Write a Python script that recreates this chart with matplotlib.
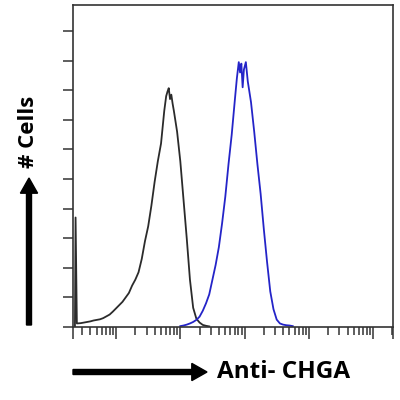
import numpy as np
import matplotlib
matplotlib.use("Agg")
import matplotlib.pyplot as plt
from matplotlib.patches import FancyArrow

# histogram data: channel position in decades (log10 intensity) and cell counts
ctrl_log = [0.36, 0.37, 0.39, 0.45, 0.50, 0.55, 0.60, 0.65, 0.70, 0.75, 0.80,
            0.85, 0.90, 0.95, 1.00, 1.05, 1.10, 1.15, 1.20, 1.25, 1.30, 1.35,
            1.40, 1.45, 1.50, 1.55, 1.60, 1.65, 1.70, 1.75, 1.78, 1.80, 1.82,
            1.84, 1.86, 1.88, 1.90, 1.95, 2.00, 2.05, 2.10, 2.15, 2.20, 2.25,
            2.30, 2.35, 2.40, 2.45]
ctrl_cnt = [0.0, 3.7, 0.12, 0.13, 0.15, 0.17, 0.19, 0.22, 0.24, 0.26, 0.30,
            0.36, 0.42, 0.52, 0.63, 0.74, 0.85, 1.0, 1.15, 1.4, 1.6, 1.85,
            2.3, 2.9, 3.4, 4.1, 4.9, 5.6, 6.2, 7.3, 7.8, 7.95, 8.07,
            7.7, 7.85, 7.55, 7.3, 6.6, 5.6, 4.3, 3.0, 1.6, 0.65, 0.28,
            0.15, 0.07, 0.04, 0.02]

chga_log = [2.00, 2.05, 2.10, 2.15, 2.20, 2.25, 2.30, 2.35, 2.40, 2.45, 2.50,
            2.55, 2.60, 2.65, 2.70, 2.75, 2.80, 2.85, 2.88, 2.91, 2.93, 2.95,
            2.97, 2.99, 3.02, 3.05, 3.10, 3.15, 3.20, 3.25, 3.30, 3.35, 3.40,
            3.45, 3.50, 3.55, 3.60, 3.65, 3.70, 3.75]
chga_cnt = [0.03, 0.05, 0.08, 0.12, 0.17, 0.24, 0.35, 0.55, 0.8, 1.1, 1.6,
            2.1, 2.7, 3.5, 4.4, 5.5, 6.5, 7.7, 8.4, 8.95, 8.6, 8.9,
            8.1, 8.7, 8.95, 8.3, 7.6, 6.6, 5.5, 4.5, 3.3, 2.2, 1.2,
            0.6, 0.25, 0.12, 0.08, 0.06, 0.05, 0.03]

x_lo, x_hi = 10 ** 0.33, 10 ** 5.31

fig = plt.figure(figsize=(4, 4), dpi=100)
ax = fig.add_axes([0.1825, 0.1825, 0.8, 0.805])

ax.plot(10 ** np.array(ctrl_log), ctrl_cnt, color='#2b2b2b', lw=1.3)
ax.plot(10 ** np.array(chga_log), chga_cnt, color='#2424c8', lw=1.3)

ax.set_xscale('log')
ax.set_xlim(x_lo, x_hi)
ax.set_ylim(0, 10.88)

majors = [x_lo, 1e1, 1e2, 1e3, 1e4, 1e5, x_hi]
minors = [m * 10 ** d for d in range(0, 6) for m in range(2, 10)]
minors = [v for v in minors if x_lo < v < x_hi * 0.98]
ax.set_xticks(majors)
ax.set_xticks(minors, minor=True)
ax.set_xticklabels([])
ax.set_xticklabels([], minor=True)
ax.set_yticks(range(0, 11))
ax.set_yticklabels([])
ax.tick_params(axis='x', which='major', direction='out', length=8.5, width=1.1, color='#333333')
ax.tick_params(axis='x', which='minor', direction='out', length=6, width=1.1, color='#333333')
ax.tick_params(axis='y', which='major', direction='out', length=7.2, width=1.1, color='#333333')
for s in ax.spines.values():
    s.set_color('#333333')
    s.set_linewidth(1.2)

# axis arrows and labels
fig.patches.append(FancyArrow(0.0725, 0.1875, 0, 0.3675, width=0.0125, head_width=0.043,
                              head_length=0.038, length_includes_head=True,
                              transform=fig.transFigure, color='black'))
fig.patches.append(FancyArrow(0.1825, 0.07, 0.335, 0, width=0.0125, head_width=0.043,
                              head_length=0.038, length_includes_head=True,
                              transform=fig.transFigure, color='black'))
fig.text(0.543, 0.07, 'Anti- CHGA', fontsize=17.5, fontweight='bold', family='Open Sans',
         ha='left', va='center')
fig.text(0.072, 0.67, '# Cells', fontsize=16, fontweight='bold', family='Open Sans',
         rotation=90, ha='center', va='center')

fig.savefig('out.png', dpi=100)
